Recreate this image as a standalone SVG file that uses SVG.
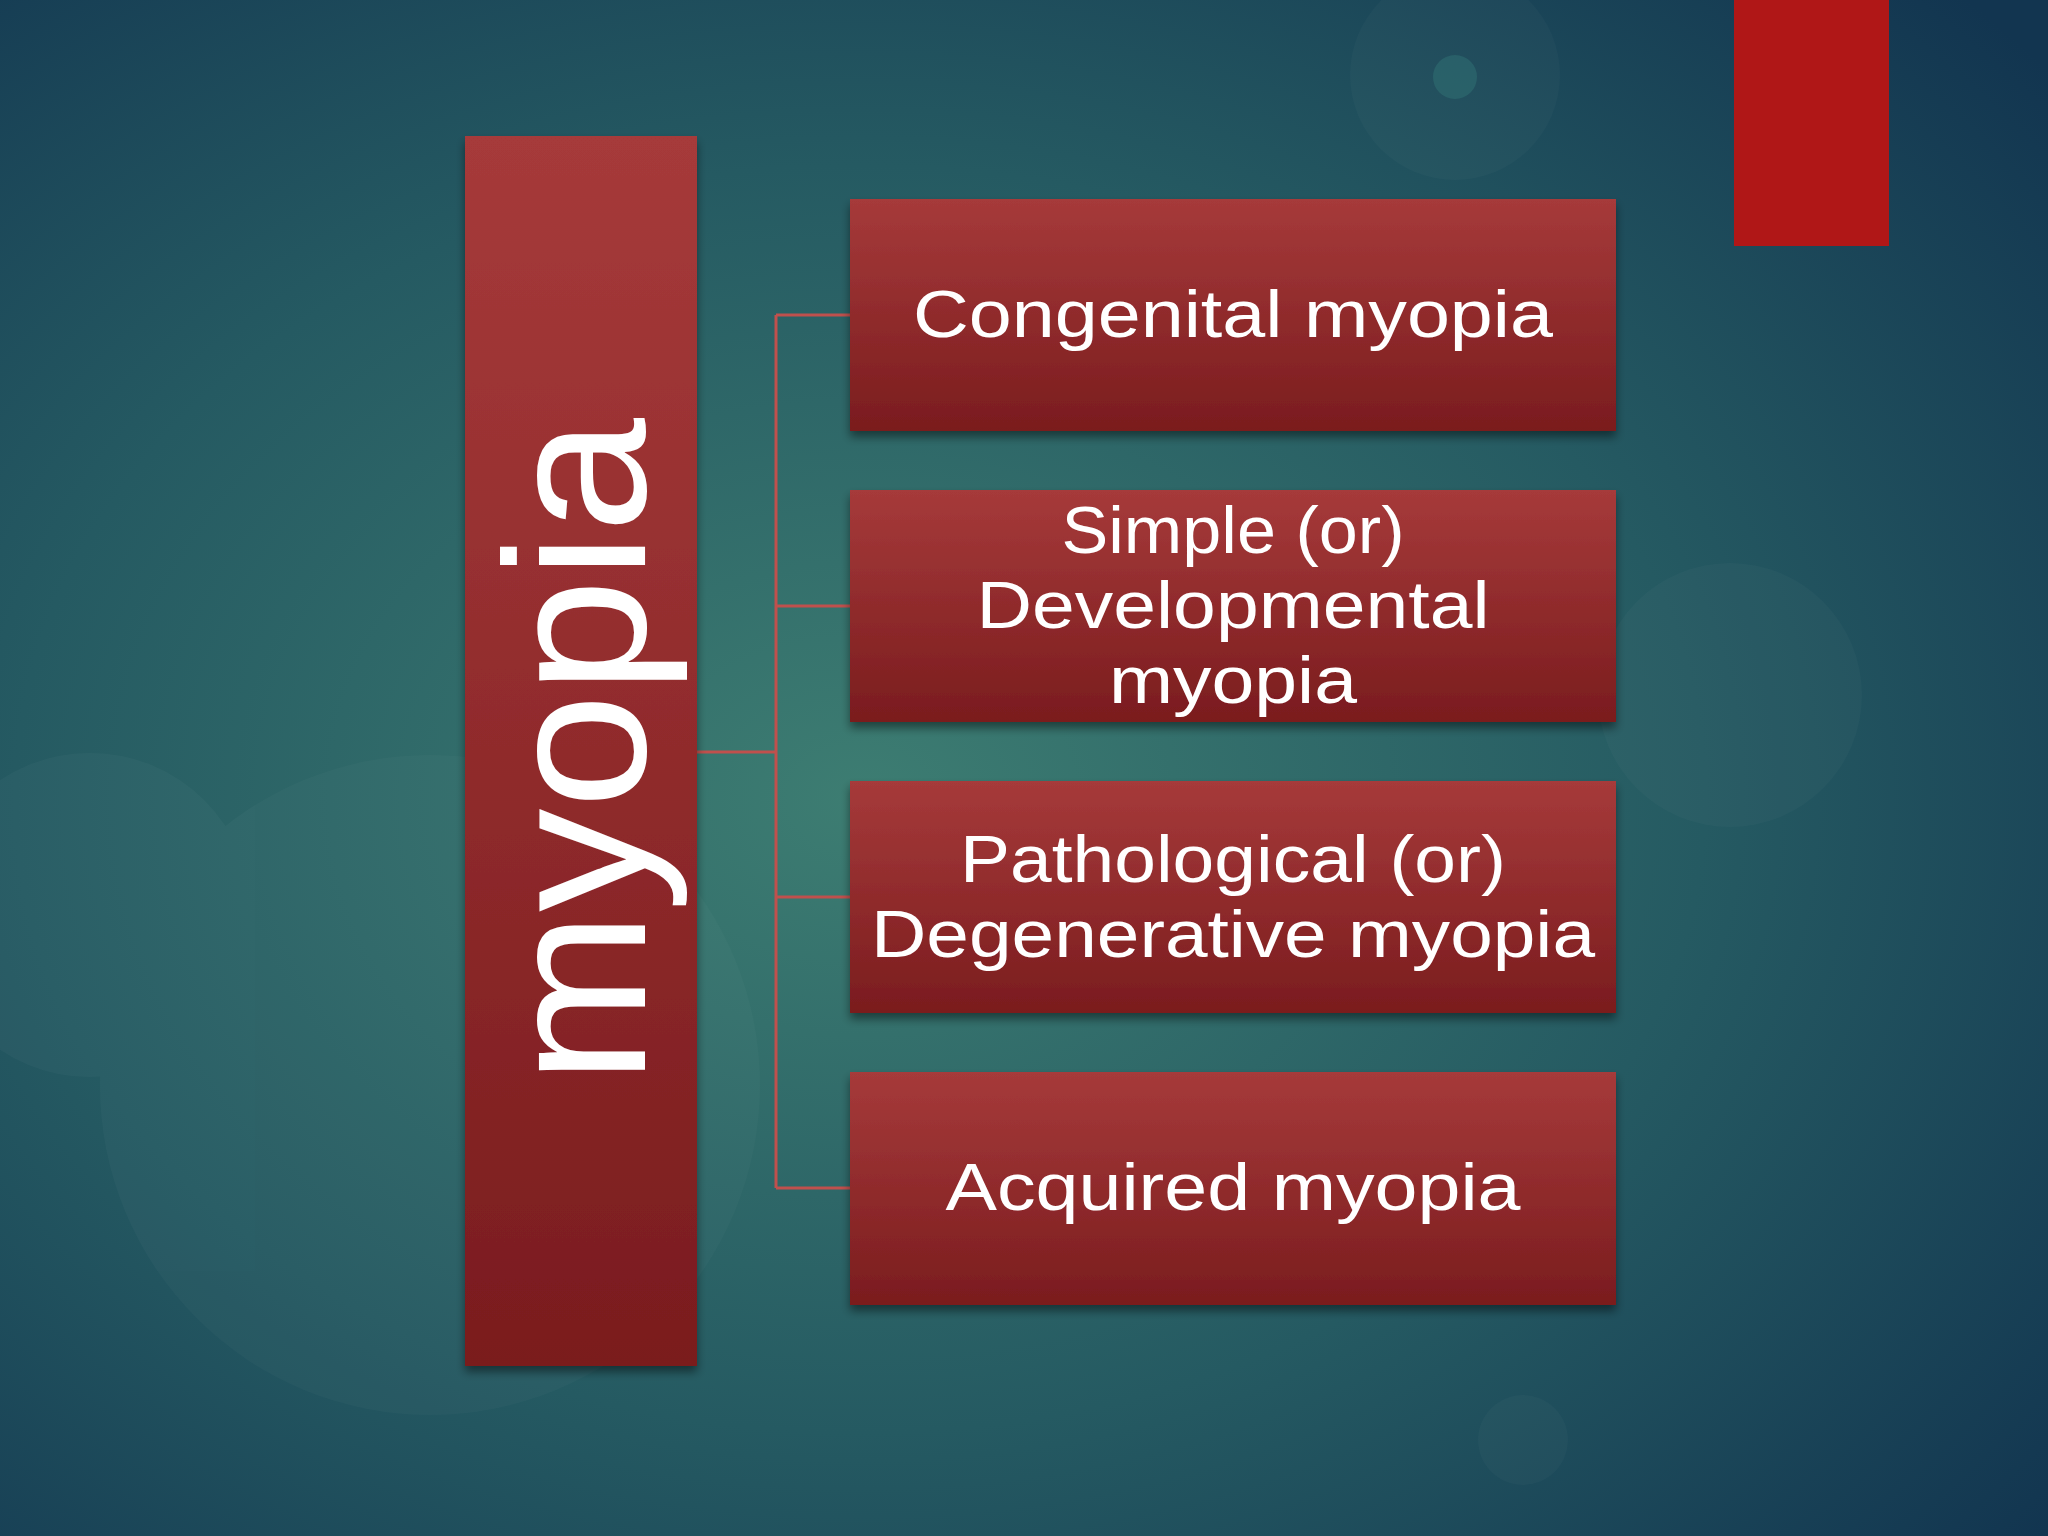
<svg xmlns="http://www.w3.org/2000/svg" width="2048" height="1536" viewBox="0 0 2048 1536">
<defs>
<radialGradient id="bg" cx="0.42" cy="0.52" r="0.75">
<stop offset="0" stop-color="#3d7d72"/>
<stop offset="0.55" stop-color="#255a62"/>
<stop offset="1" stop-color="#123550"/>
</radialGradient>
<linearGradient id="box" x1="0" y1="0" x2="0" y2="1">
<stop offset="0" stop-color="#a63a3a"/>
<stop offset="1" stop-color="#7a1c1e"/>
</linearGradient>
<filter id="sh" x="-10%" y="-10%" width="120%" height="130%">
<feDropShadow dx="0" dy="6" stdDeviation="5" flood-color="#000" flood-opacity="0.45"/>
</filter>
<style>
.b{fill:url(#box);filter:url(#sh)}
.t{font-family:"Century Gothic","URW Gothic","Liberation Sans",sans-serif;fill:#fff;font-size:66px;text-anchor:middle}
.c{stroke:#c0504d;stroke-width:3;fill:none}
</style>
</defs>
<rect width="2048" height="1536" fill="url(#bg)"/>
<g fill="#fff" opacity="0.025">
<circle cx="1455" cy="75" r="105"/>
<circle cx="1730" cy="695" r="132"/>
<circle cx="90" cy="915" r="162"/>
<circle cx="430" cy="1085" r="330"/>
<circle cx="1523" cy="1440" r="45"/>
</g>
<circle cx="1455" cy="77" r="22" fill="#3d8a86" opacity="0.3"/>
<rect x="1734" y="0" width="155" height="246" fill="#b01717"/>
<g id="connectors">
<path class="c" d="M697 752H776M776 315V1188M776 315H850M776 606H850M776 897H850M776 1188H850"/>
</g>
<g id="root">
<rect class="b" x="465" y="136" width="232" height="1230"/>
<text class="t" transform="translate(645 751) rotate(-90)" style="font-size:200px" textLength="666" lengthAdjust="spacingAndGlyphs">myopia</text>
</g>
<g id="n1"><rect class="b" x="850" y="199" width="766" height="232"/>
<text class="t" x="1233" y="337" textLength="640" lengthAdjust="spacingAndGlyphs">Congenital myopia</text></g>
<g id="n2"><rect class="b" x="850" y="490" width="766" height="232"/>
<text class="t" x="1233" y="553" textLength="343" lengthAdjust="spacingAndGlyphs">Simple (or)</text>
<text class="t" x="1233" y="628" textLength="513" lengthAdjust="spacingAndGlyphs">Developmental</text>
<text class="t" x="1233" y="703" textLength="248" lengthAdjust="spacingAndGlyphs">myopia</text></g>
<g id="n3"><rect class="b" x="850" y="781" width="766" height="232"/>
<text class="t" x="1233" y="882" textLength="546" lengthAdjust="spacingAndGlyphs">Pathological (or)</text>
<text class="t" x="1233" y="957" textLength="724" lengthAdjust="spacingAndGlyphs">Degenerative myopia</text></g>
<g id="n4"><rect class="b" x="850" y="1072" width="766" height="233"/>
<text class="t" x="1233" y="1210" textLength="575" lengthAdjust="spacingAndGlyphs">Acquired myopia</text></g>
</svg>
